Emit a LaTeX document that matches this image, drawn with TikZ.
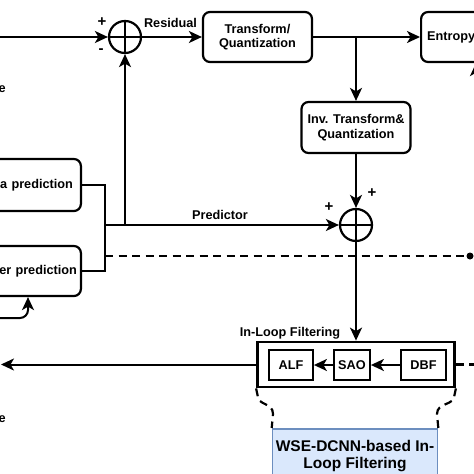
\documentclass[tikz,border=0pt]{standalone}
\usepackage{fontspec}
\setmainfont{Liberation Sans}
\usetikzlibrary{arrows.meta,calc}
\definecolor{wsefill}{HTML}{DAE8FC}
\definecolor{wseborder}{HTML}{6C8EBF}
\begin{document}
\begin{tikzpicture}[x=1pt,y=-1pt,
  every node/.style={font=\fontsize{12.7}{14.5}\selectfont\bfseries},
  rbox/.style={draw, line width=2.2pt, rounded corners=7pt, align=center, inner sep=0pt},
  sbox/.style={draw, line width=1.8pt, inner sep=0pt, minimum height=30pt},
  sumnode/.style={draw, circle, line width=2.2pt, minimum size=32pt, inner sep=0pt},
  conn/.style={line width=2pt},
  arr/.style={conn, -{Stealth[length=13pt,width=12pt,inset=3.5pt]}},
  dsh/.style={line width=2.2pt, dash pattern=on 8pt off 5.5pt},
  lbl/.style={inner sep=0pt},
  sgn/.style={inner sep=0pt, font=\fontsize{15}{15}\selectfont\bfseries},
]
\useasboundingbox (0,0) rectangle (474,474);

% boxes
\node[rbox, minimum width=109pt, minimum height=50pt] (tq) at (257.5,37) {Transform/\\Quantization};
\node[rbox, minimum height=50pt, text width=98pt, align=left, inner xsep=6pt, anchor=west] (ent) at (420,37) {Entropy};
\node[rbox, minimum width=109pt, minimum height=51pt] (inv) at (356,127.5) {Inv. Transform\&\\Quantization};
\node[sumnode] (add1) at (125,37) {};
\node[sumnode] (add2) at (356,225) {};
\node[rbox, minimum height=52pt, text width=133pt, align=right, inner xsep=8pt, anchor=east] (intra) at (82,185) {a prediction};
\node[rbox, minimum height=50pt, text width=133pt, align=right, inner xsep=4pt, anchor=east] (inter) at (82,271) {er prediction};
\node[draw, line width=2.8pt, minimum width=197pt, minimum height=45pt, inner sep=0pt] (loop) at (356,364.5) {};
\node[sbox, minimum width=44pt] (alf) at (291,365) {ALF};
\node[sbox, minimum width=36pt] (sao) at (352,365) {SAO};
\node[sbox, minimum width=45pt] (dbf) at (423.5,365) {DBF};
\node[draw=wseborder, fill=wsefill, line width=1.5pt, minimum width=164pt, minimum height=54pt, anchor=north, align=center, font=\fontsize{15.5}{17}\selectfont\bfseries] (wse) at (355,428) {WSE-DCNN-based In-\\Loop Filtering};

% labels
\node[lbl] (res) at (170.5,23) {Residual};
\node[lbl] (pred) at (220,215) {Predictor};
\node[lbl] (ilf) at (290,333) {In-Loop Filtering};
\node[sgn] (p1) at (102,22) {+};
\node[sgn] (m1) at (101,51) {-};
\node[sgn] (p2) at (372,193) {+};
\node[sgn] (p3) at (329,207) {+};
\node[lbl, anchor=east] (e1) at (6,89.5) {e};
\node[lbl, anchor=east] (e2) at (6,419) {e};

% adder crosses
\draw[conn] (add1.north) -- (add1.south) (add1.west) -- (add1.east);
\draw[conn] (add2.north) -- (add2.south) (add2.west) -- (add2.east);

% connectors
\coordinate (inp) at (-5,37);
\draw[arr] (inp) -- (add1.west);
\draw[arr] (add1.east) -- (tq.west);
\draw[arr] (tq.east) -- (ent.west);
\draw[arr] (tq.east -| inv.north) -- (inv.north);
\draw[arr] (inv.south) -- (add2.north);
\draw[arr] (add2.south) -- (loop.north);
\coordinate (jn) at (105,225);
\draw[conn] (intra.east) -| (jn) |- (inter.east);
\draw[arr] (jn) -- (add2.west);
\draw[arr] (jn -| add1.south) -- (add1.south);
\draw[arr] (dbf.west) -- (sao.east);
\draw[arr] (sao.west) -- (alf.east);
\coordinate (outp) at (1,364.5);
\draw[arr] (loop.west) -- (outp);
\coordinate (fb) at (-5,318);
\draw[arr, rounded corners=8pt] (fb) -| ([xshift=-54pt]inter.south east);
\coordinate (eb) at (476,110);
\draw[arr] (eb) -- (eb |- ent.south);

% dashed lines
\coordinate (dst) at (105,256);
\node[circle, fill, inner sep=0pt, minimum size=7pt] (dot) at (470,256) {};
\draw[dsh] (dst) -- (dot);
\coordinate (rin) at (478,364.5);
\draw[dsh] (loop.east) -- (rin);
\draw[dsh] (loop.south west) -- (257.5,395) .. controls (257.5,406) and (273,402) .. (273,414) -- (wse.north west);
\draw[dsh] (loop.south east) -- (454.5,395) .. controls (454.5,406) and (437,402) .. (437,414) -- (wse.north east);
\end{tikzpicture}
\end{document}
